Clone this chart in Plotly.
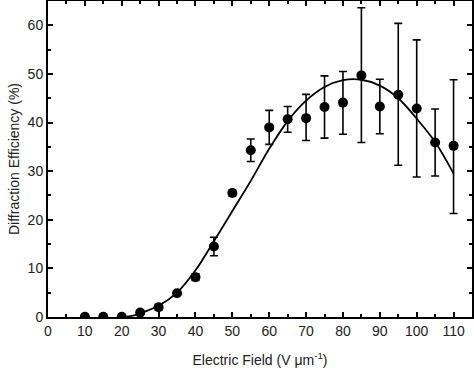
import plotly.graph_objects as go

# Measured data
field = [10, 15, 20, 25, 30, 35, 40, 45, 50, 55, 60, 65, 70, 75, 80, 85, 90, 95, 100, 105, 110]
eff = [0.05, 0.05, 0.05, 0.9, 2.0, 4.9, 8.2, 14.5, 25.5, 34.3, 39.0, 40.7, 40.9, 43.2, 44.1, 49.7, 43.3, 45.7, 42.9, 35.9, 35.2]
err_plus = [0.4, 0.1, 0.3, 0.3, 0.6, 0.4, 0.7, 1.9, 0.6, 2.3, 3.5, 2.6, 4.9, 6.4, 6.4, 13.9, 5.6, 14.7, 14.1, 6.9, 13.6]
err_minus = [0.4, 0.1, 0.3, 0.3, 0.6, 0.4, 0.7, 1.9, 0.6, 2.3, 3.5, 2.7, 4.6, 6.4, 6.5, 13.8, 5.6, 14.5, 14.1, 6.9, 13.9]

# Fitted curve
fit_x = [20, 22.5, 25, 30, 35, 40, 45, 50, 55, 60, 65, 70, 75, 80, 85, 90, 95, 100, 105, 110]
fit_y = [0.0, 0.2, 0.75, 2.3, 5.0, 9.6, 15.6, 21.8, 28.0, 34.6, 40.3, 44.5, 47.3, 48.7, 48.8, 47.6, 45.0, 40.8, 36.0, 29.5]

x_ticks = [0, 10, 20, 30, 40, 50, 60, 70, 80, 90, 100, 110]
y_ticks = [0, 10, 20, 30, 40, 50, 60]

FONT = "Liberation Sans, Arial, sans-serif"

fig = go.Figure()
fig.add_trace(go.Scatter(
    x=fit_x, y=fit_y, mode="lines", line=dict(color="black", width=1.8, shape="spline"),
    hoverinfo="skip", showlegend=False))
fig.add_trace(go.Scatter(
    x=field, y=eff, mode="markers",
    marker=dict(color="black", size=10, symbol="circle"),
    error_y=dict(type="data", symmetric=False, array=err_plus, arrayminus=err_minus,
                 color="black", thickness=1.6, width=4),
    showlegend=False))

axis_common = dict(
    showline=True, linecolor="black", linewidth=2, mirror="allticks",
    ticks="inside", ticklen=5, tickwidth=1.5, tickcolor="black",
    showgrid=False, zeroline=False, automargin=False,
    tickfont=dict(family=FONT, size=14, color="#222"),
    minor=dict(ticks="inside", ticklen=3, tickwidth=1.5, tickcolor="black", dtick=5, showgrid=False),
)

fig.update_layout(
    width=474, height=372,
    margin=dict(l=48, r=2, t=1, b=55),
    paper_bgcolor="white", plot_bgcolor="white",
    font=dict(family=FONT, size=14, color="#222"),
    xaxis=dict(range=[0, 115], tickvals=x_ticks,
               title=dict(text="Electric Field (V \u03bcm<sup>-1</sup>)", standoff=17,
                          font=dict(size=14)),
               **axis_common),
    yaxis=dict(range=[0, 65], tickvals=y_ticks,
               title=dict(text="Diffraction Efficiency (%)", standoff=5, font=dict(size=14)),
               **axis_common),
)

fig.write_html("out.html", config={"displayModeBar": False},
               post_script="document.body.style.margin='0';")
